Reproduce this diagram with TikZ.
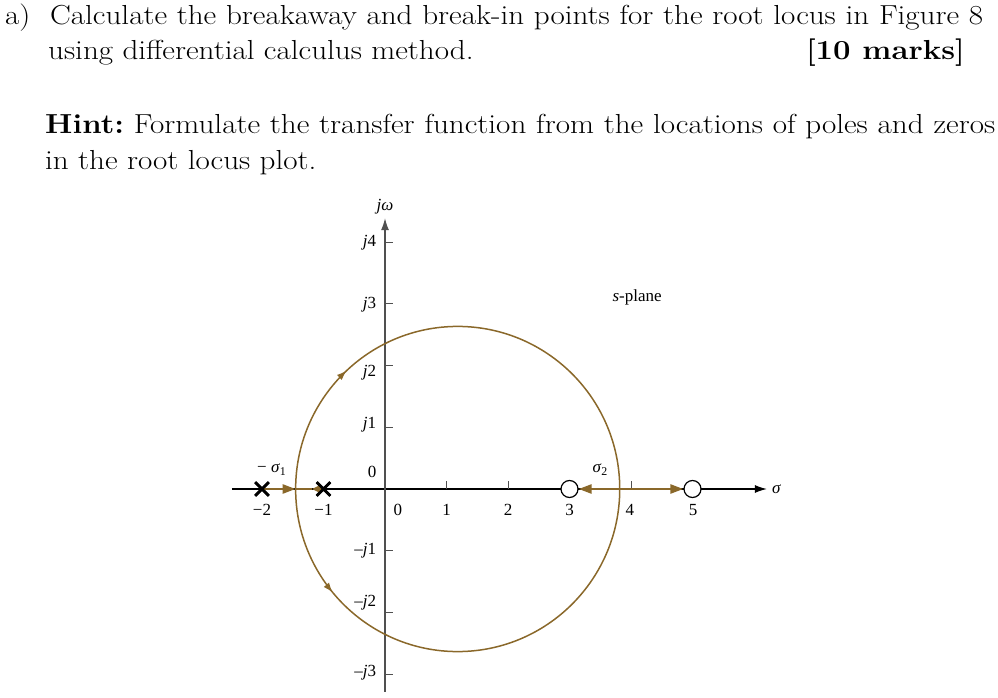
\documentclass[tikz,border=0pt]{standalone}
\usepackage{amsmath}
\usepackage{fontspec}
\newfontfamily\figfont{Liberation Serif}
\usepackage{tikz}
\usetikzlibrary{decorations.markings,arrows.meta,shapes.misc}
\definecolor{locus}{RGB}{138,104,42}
\definecolor{axisgray}{RGB}{80,80,80}
\newcommand{\wide}[1]{\scalebox{1.13}[1]{#1}}
\tikzset{
    axis/.style={draw=axisgray, line width=1.3pt},
    tick/.style={draw=axisgray, line width=0.9pt},
    branch/.style={draw=locus, line width=1.5pt},
    realbranch/.style={draw=locus, line width=2.4pt, -{Triangle[length=13pt,width=9pt]}},
    arrow on/.style={
        postaction={
            decorate,decoration={
                markings,mark=at position #1 with {\arrow[locus]{Latex[length=10pt,width=7pt]}}
            }
        }
    },
    pole/.style={cross out, draw=black, line width=2.6pt, minimum size=11pt, inner sep=0pt},
    zero/.style={circle, draw=black, fill=white, line width=1.2pt, minimum size=17pt, inner sep=0pt},
    lbl/.style={font=\figfont\fontsize{17}{17}\selectfont, inner sep=0pt},
    qtext/.style={font=\fontsize{27.5}{32}\selectfont, inner sep=0pt, anchor=base west},
}

\begin{document}
\begin{tikzpicture}[x=1pt,y=1pt]
    \useasboundingbox (0,0) rectangle (998,697);
    \node[qtext] (qa) at (5,672) {\wide{a)}};
    \node[qtext] (q1) at (50,672) {\wide{\makebox[825.7pt][s]{Calculate the breakaway and break-in points for the root locus in Figure 8}}};
    \node[qtext] (q2) at (48,637) {\wide{using differential calculus method.}};
    \node[qtext, anchor=base east] (marks) at (965,637) {\wide{\bfseries [10 marks]}};
    \node[qtext] (hint) at (45,563) {\wide{\makebox[840.7pt][s]{\bfseries Hint:\mdseries\ Formulate the transfer function from the locations of poles and zeros}}};
    \node[qtext] (q4) at (45,527) {\wide{in the root locus plot.}};

    \begin{scope}[shift={(385,208)}, x=61.5pt, y=61.7pt]
    \coordinate (west) at (-2.49,0);
    \coordinate (east) at (6.21,0);
    \coordinate (south) at (0,-3.29);
    \coordinate (north) at (0,4.39);
    \coordinate (ba) at (-1.453,0);
    \coordinate (bi) at (3.817,0);
    \coordinate (m1) at (-1.19,0);
    \draw[axis, -{Latex[length=12pt,width=8pt]}, black] (west) -- (east);
    \draw[axis, -{Latex[length=12pt,width=8pt]}] (south) -- (north);
    \foreach \k in {1,2,4} \draw[tick] (\k,0) -- ++(0,8pt);
    \foreach \k in {-3,-2,-1,1,2,3,4} \draw[tick] (0,\k) -- ++(8pt,0);

    \node[pole] (p2) at (-2,0) {};
    \node[pole] (p1) at (-1,0) {};
    \node[zero] (z3) at (3,0) {};
    \node[zero] (z5) at (5,0) {};

    \draw[realbranch] (p2.center) -- (ba);
    \draw[realbranch, -{Triangle[length=9pt,width=8pt]}] (p1.center) -- (m1);
    \draw[realbranch, -] (m1) -- (ba);
    \draw[realbranch] (bi) -- (z3);
    \draw[realbranch] (bi) -- (z5);
    \draw[branch, arrow on=0.26] (ba) arc[start angle=180, end angle=0, radius=2.635];
    \draw[branch, arrow on=0.22] (ba) arc[start angle=180, end angle=360, radius=2.635];
    \node[pole] at (p2) {};
    \node[pole] at (p1) {};

    \node[lbl, anchor=south] (jw) at ([yshift=4pt]north) {\textit{jω}};
    \node[lbl, anchor=west] (sig) at ([xshift=5pt]east) {\textit{σ}};
    \node[lbl] (splane) at (4.10,3.11) {\textit{s}-plane};
    \node[lbl] (sig1) at (-1.84,0.31) {− \textit{σ}\textsubscript{1}};
    \node[lbl] (sig2) at (3.50,0.31) {\textit{σ}\textsubscript{2}};
    \node[lbl] (zup) at (-0.21,0.28) {0};
    \foreach \k/\t in {-2/−2,-1/−1,0.21/0,1/1,2/2,3/3,3.98/4,5.01/5}
        \node[lbl] at (\k,-0.34) {\t};
    \foreach \k/\t in {3.99/4,2.98/3,1.88/2,1.04/1}
        \node[lbl, anchor=east] at (-0.14,\k) {\textit{j}\t};
    \foreach \k/\t in {-1.0/1,-1.85/2,-2.98/3}
        \node[lbl, anchor=east] at (-0.14,\k) {–\textit{j}\t};
    \end{scope}
\end{tikzpicture}
\end{document}
